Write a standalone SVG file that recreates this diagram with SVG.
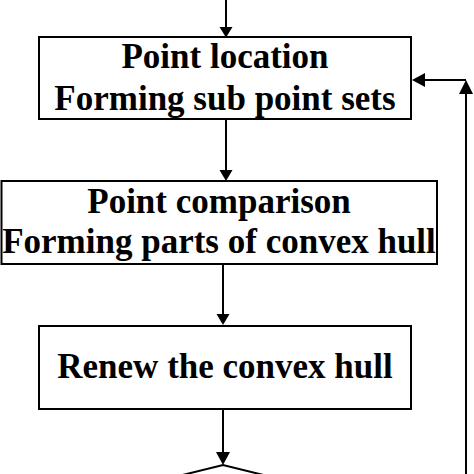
<svg xmlns="http://www.w3.org/2000/svg" width="474" height="474" viewBox="0 0 474 474">
<style>
.box{fill:#fff;stroke:#000;stroke-width:2}
.t{font-family:"Liberation Serif","Times New Roman",serif;font-weight:bold;font-size:35px;fill:#000;text-anchor:middle}
.ln{stroke:#000;stroke-width:2;fill:none}
.ah{fill:#000}
</style>
<rect width="474" height="474" fill="#fff"/>
<g id="connectors">
<line class="ln" x1="226" y1="0" x2="226" y2="28"/>
<polygon class="ah" points="219.5,27 232.5,27 226,37.5"/>
<line class="ln" x1="226" y1="120" x2="226" y2="171"/>
<polygon class="ah" points="219.5,170 232.5,170 226,181"/>
<line class="ln" x1="223" y1="265" x2="223" y2="315"/>
<polygon class="ah" points="216.5,314 229.5,314 223,325"/>
<line class="ln" x1="223" y1="409" x2="223" y2="453"/>
<polygon class="ah" points="216,452 230,452 223,465"/>
<line class="ln" x1="466" y1="474" x2="466" y2="93"/>
<polygon class="ah" points="459,94 473,94 466,80"/>
<line class="ln" x1="466" y1="80" x2="424" y2="80"/>
<polygon class="ah" points="425,73 425,87 412,80"/>
</g>
<g id="node1">
<rect class="box" x="39" y="37" width="372" height="82"/>
<text class="t" x="225" y="68">Point location</text>
<text class="t" x="225" y="110">Forming sub point sets</text>
</g>
<g id="node2">
<rect class="box" x="1.5" y="181" width="435.5" height="83"/>
<text class="t" x="219" y="213">Point comparison</text>
<text class="t" x="219" y="253">Forming parts of convex hull</text>
</g>
<g id="node3">
<rect class="box" x="39" y="326" width="372" height="83"/>
<text class="t" x="225" y="378">Renew the convex hull</text>
</g>
<g id="node4">
<polyline class="ln" points="140,485.5 223,465 306,485.5"/>
</g>
</svg>
